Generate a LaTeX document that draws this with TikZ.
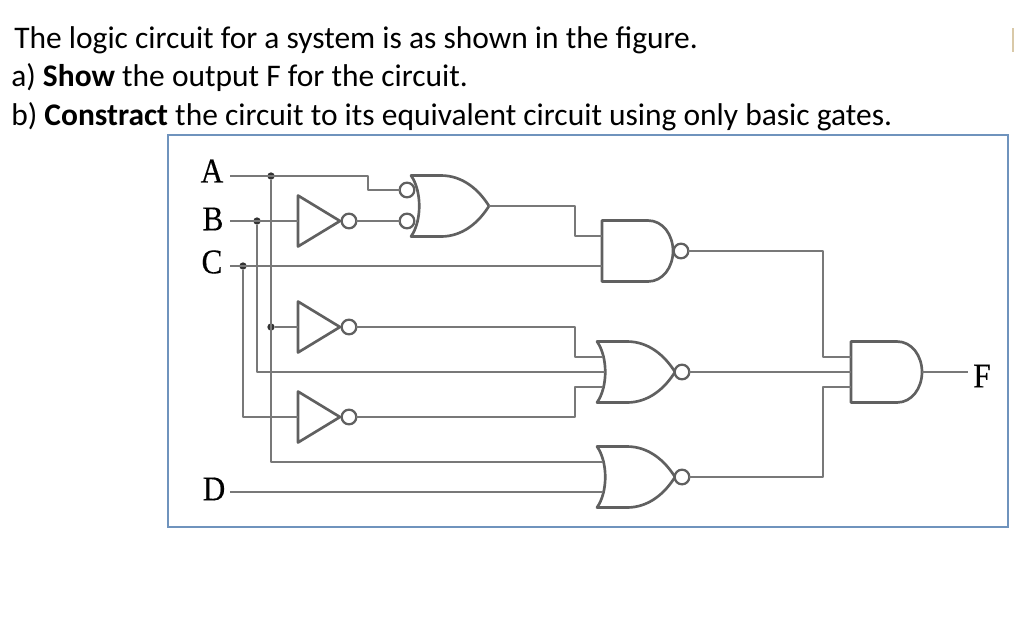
\documentclass[tikz,border=0pt]{standalone}
\usepackage{fontspec}
\setmainfont{Carlito}
\newfontfamily\labelfont[FakeStretch=0.9,FakeBold=0.4]{Liberation Serif}
\definecolor{wiregray}{HTML}{787878}
\definecolor{gategray}{HTML}{606060}
\definecolor{frameblue}{HTML}{6F93BD}
\definecolor{edgetan}{HTML}{D9C9A8}
\tikzset{
	wire/.style = {wiregray, line width=1.9pt, line join=round},
	gate/.style = {gategray, line width=2pt, line join=round},
	bubble/.style = {circle, draw=gategray, line width=1.7pt, fill=white, inner sep=0pt, outer sep=0pt, minimum size=11pt},
	joint/.style = {circle, fill=black!80, inner sep=0pt, minimum size=5.5pt},
	question/.style = {anchor=base west, inner sep=0pt, font=\fontsize{23.6pt}{28pt}\selectfont},
	letter/.style = {inner sep=0pt, font=\labelfont\fontsize{26pt}{30pt}\selectfont},
	orshape/.pic = {
		\draw[gate] (0,-30.5) .. controls (11,-15) and (11,15) .. (0,30.5)
			-- (30,30.5) .. controls (52,30.5) and (68,16) .. (78,0)
			.. controls (68,-16) and (52,-30.5) .. (30,-30.5) -- cycle;
		\coordinate (-upper) at (6,-15);
		\coordinate (-middle) at (8,0);
		\coordinate (-lower) at (6,15);
		\coordinate (-out) at (78,0);
	},
	andshape/.pic = {
		\draw[gate] (0,-30.5) -- (46,-30.5) .. controls (61,-30.5) and (71,-16) .. (71,0)
			.. controls (71,16) and (61,30.5) .. (46,30.5) -- (0,30.5) -- cycle;
		\coordinate (-upper) at (0,-15);
		\coordinate (-middle) at (0,0);
		\coordinate (-lower) at (0,15);
		\coordinate (-out) at (71,0);
	},
	notshape/.pic = {
		\draw[gate] (0,-25.5) -- (42,0) -- (0,25.5) -- cycle;
		\coordinate (-in) at (0,0);
		\coordinate (-out) at (42,0);
	}
}
\begin{document}
\begin{tikzpicture}[x=0.75pt, y=-0.75pt]
	\useasboundingbox (0,0) rectangle (1014,626);
	% question text
	\node[question] (line1) at (14,48) {The logic circuit for a system is as shown in the figure.};
	\node[question] (line2) at (11,86) {a) \textbf{Show} the output F for the circuit.};
	\node[question] (line3) at (11,125) {b) \textbf{Constract} the circuit to its equivalent circuit using only basic gates.};
	\draw[frameblue, line width=1.1pt] (168,135) rectangle (1008,527);
	\draw[edgetan, line width=1.5pt] (1013,28) -- (1013,52);

	% gates
	\pic (or1) at (411,206) {orshape};
	\pic (nand1) at (602,251) {andshape};
	\pic (nor2) at (597,372) {orshape};
	\pic (nor3) at (597,477) {orshape};
	\pic (and1) at (851,372) {andshape};
	\pic (inv1) at (298,221) {notshape};
	\pic (inv2) at (298,327) {notshape};
	\pic (inv3) at (298,417) {notshape};

	% bubbles
	\node[bubble] (bubA) at (407,190) {};
	\node[bubble] (bubB) at (407,221) {};
	\node[bubble] (bubinv1) at (349,221) {};
	\node[bubble] (bubinv2) at (349,327) {};
	\node[bubble] (bubinv3) at (349,417) {};
	\node[bubble] (bubnand) at (681,251) {};
	\node[bubble] (bubnor2) at (682,372) {};
	\node[bubble] (bubnor3) at (682,477) {};

	% labels
	\node[letter] (A) at (212,171) {A};
	\node[letter] (B) at (213,219) {B};
	\node[letter] (C) at (212,262) {C};
	\node[letter] (D) at (214,489) {D};
	\node[letter] (F) at (982,376) {F};

	% inputs
	\coordinate (Astart) at (230,176);
	\coordinate (Bstart) at (230,221);
	\coordinate (Cstart) at (230,266);
	\coordinate (Dstart) at (230,492);
	\coordinate (Fend) at (968,372);
	\node[joint] (jA) at (271,176) {};
	\node[joint] (jB) at (257,221) {};
	\node[joint] (jC) at (243,266) {};
	\node[joint] (jinv2) at (271,327) {};
	\coordinate (jogA) at (368,176);
	\coordinate (jogor) at (575,206);
	\coordinate (joginv2) at (575,327);
	\coordinate (joginv3) at (575,417);
	\coordinate (busnand) at (823,251);
	\coordinate (busnor3) at (823,477);

	% connectors
	\draw[wire] (Astart) -- (jogA) |- (bubA);
	\draw[wire] (Bstart) -- (inv1-in);
	\draw[wire] (bubinv1) -- (bubB);
	\draw[wire] (Cstart) -- (nand1-lower);
	\draw[wire] (or1-out) -- (jogor) |- (nand1-upper);
	\draw[wire] (jA) |- (nor3-upper);
	\draw[wire] (jB) |- (nor2-middle);
	\draw[wire] (jC) |- (inv3-in);
	\draw[wire] (jinv2) -- (inv2-in);
	\draw[wire] (bubinv2) -- (joginv2) |- (nor2-upper);
	\draw[wire] (bubinv3) -- (joginv3) |- (nor2-lower);
	\draw[wire] (Dstart) -- (nor3-lower);
	\draw[wire] (bubnand) -- (busnand) |- (and1-upper);
	\draw[wire] (bubnor2) -- (and1-middle);
	\draw[wire] (bubnor3) -- (busnor3) |- (and1-lower);
	\draw[wire] (and1-out) -- (Fend);
\end{tikzpicture}
\end{document}
